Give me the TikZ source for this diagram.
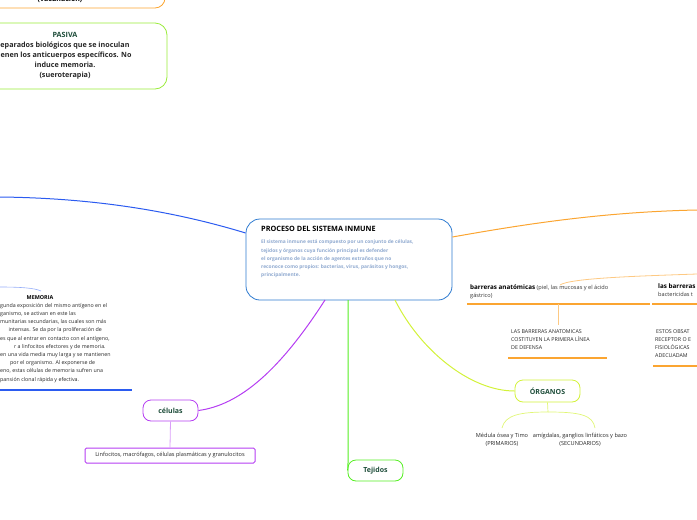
\documentclass[tikz,border=0pt]{standalone}
\usepackage{fontspec}
\setmainfont{Open Sans}
\definecolor{dg}{HTML}{1E4D3A}
\definecolor{bl}{HTML}{2E7BD0}
\definecolor{lb}{HTML}{8FA9CF}
\definecolor{vb}{HTML}{2B5BF0}
\definecolor{og}{HTML}{FBA531}
\definecolor{yg}{HTML}{D3F23A}
\definecolor{gr}{HTML}{55EE22}
\definecolor{pu}{HTML}{B53DF2}
\definecolor{lg}{HTML}{9AEB3A}
\begin{document}
\begin{tikzpicture}[x=1pt,y=-1pt,
 tiny/.style={font=\fontsize{5.3}{8.2}\selectfont,text=black!85,align=left,inner sep=0},
 sm/.style={font=\fontsize{5.6}{8}\selectfont,text=black!85,inner sep=0},
 lbl/.style={font=\bfseries\fontsize{7}{9}\selectfont,text=dg,inner sep=0}]
\useasboundingbox (0,0) rectangle (697,520);
% top cut-off boxes
\draw[og,line width=0.8pt,rounded corners=10pt] (-20,-30) rectangle (165,8);
\node[font=\bfseries\fontsize{7}{9}\selectfont] (vac) at (60,-1) {(vacunación)};
\draw[lg,line width=0.8pt,rounded corners=12pt] (-60,23) rectangle (167,89);
\node[align=center,font=\bfseries\fontsize{7.2}{10}\selectfont,text=black!85] (pas) at (65,56)
 {\textcolor{dg}{PASIVA}\\eparados biológicos que se inoculan\\ienen los anticuerpos específicos. No\\induce memoria.\\(sueroterapia)};
% central
\node[draw=bl,line width=0.8pt,rounded corners=14pt,minimum width=206pt,minimum height=81pt,inner sep=0] (c) at (349,259.5) {};
\node[anchor=north west,font=\bfseries\fontsize{7.3}{9}\selectfont,inner sep=0] (ct) at (261,226) {PROCESO DEL SISTEMA INMUNE};
\node[anchor=north west,font=\bfseries\fontsize{4.9}{8.2}\selectfont,text=lb,align=left,inner sep=0] (cd) at (261,240)
 {El sistema inmune está compuesto por un conjunto de células,\\tejidos y órganos cuya función principal es defender\\el organismo de la acción de agentes extraños que no\\reconoce como propios: bacterias, virus, parásitos y hongos,\\principalmente.};
% left
\coordinate (lb1) at (0,197);
\draw[vb,line width=1pt] (c.west|-0,233) .. controls (170,210) and (90,198) .. (lb1);
\draw[vb!50,line width=0.6pt] (0,287) .. controls (20,287) and (35,288) .. (41,291);
\node[font=\bfseries\fontsize{5.4}{7}\selectfont,inner sep=0] (mem) at (40,298) {MEMORIA};
\node[tiny,anchor=north west] (memt) at (0,303) {gunda exposición del mismo antígeno en el\\ganismo, se activan en este las\\munitarias secundarias, las cuales son más\\\hspace*{7pt} intensas. Se da por la proliferación de\\es que al entrar en contacto con el antígeno,\\\hspace*{14pt}r a linfocitos efectores y de memoria.\\en una vida media muy larga y se mantienen\\\hspace*{10pt}por el organismo. Al exponerse de\\eno, estas células de memoria sufren una\\pansión clonal rápida y efectiva.};
\draw[vb,line width=1.2pt] (0,390) -- (132,390);
% right orange
\coordinate (r1) at (697,210);
\draw[og,line width=1pt] (c.east|-0,237) .. controls (520,225) and (600,212) .. (r1);
\coordinate (r2) at (697,274);
\draw[og!60,line width=0.8pt] (560,285) .. controls (570,278) and (640,276) .. (r2);
\node[anchor=north west,inner sep=0,font=\fontsize{5.6}{8}\selectfont,align=left] (ba) at (470,284)
 {\textbf{\fontsize{6.3}{8}\selectfont barreras anatómicas} \textcolor{black!80}{(piel, las mucosas y el ácido}\\\textcolor{black!80}{gástrico)}};
\draw[og,line width=1.2pt] (467,304) -- (650,304);
\coordinate (bt) at (558,304);
\node[tiny,anchor=north west,font=\fontsize{5.3}{8.2}\selectfont] (lbar) at (511,329) {LAS BARRERAS ANATOMICAS\\COSTITUYEN LA PRIMERA LÍNEA\\DE DEFENSA};
\draw[og!60,line width=0.8pt] (bt) -- (558,325);
\draw[og,line width=1.2pt] (508,358) -- (607,358);
\node[anchor=north west,inner sep=0,font=\fontsize{5.6}{8}\selectfont,align=left] (lb2) at (658,284)
 {\textbf{\fontsize{6.3}{8}\selectfont las barreras}\\\textcolor{black!80}{bactericidas t}};
\draw[og,line width=1.2pt] (652,304) -- (697,304);
\node[tiny,anchor=north west] (est) at (655,329) {\,ESTOS OBSAT\\RECEPTOR O E\\FISIOLÓGICAS\\ADECUADAM};
\draw[og,line width=1.2pt] (653,366) -- (697,366);
% organos
\node[draw=yg,line width=0.8pt,rounded corners=8pt,minimum width=65pt,minimum height=22pt,lbl] (org) at (547.5,391) {ÓRGANOS};
\draw[yg,line width=1pt] (395,300) .. controls (420,350) and (470,391) .. (org.west);
\node[sm,align=center] (m1) at (502,440) {Médula ósea y Timo\\(PRIMARIOS)};
\node[sm,align=center] (m2) at (580,440) {amígdalas, ganglios linfáticos y bazo\\(SECUNDARIOS)};
\draw[yg!70,line width=0.7pt] (org.south) -- (548,412) .. controls (520,412) and (505,415) .. (502,428);
\draw[yg!70,line width=0.7pt] (548,412) .. controls (580,412) and (593,415) .. (595,428);
% tejidos
\node[draw=gr,line width=0.8pt,rounded corners=8pt,minimum width=55pt,minimum height=21pt,lbl] (tej) at (375.5,470.5) {Tejidos};
\draw[gr,line width=1pt] (348,300) -- (348,462) .. controls (348,468) .. (tej.west);
% celulas
\node[draw=pu,line width=0.8pt,rounded corners=8pt,minimum width=55pt,minimum height=21pt,lbl] (cel) at (170.5,410.5) {células};
\draw[pu,line width=1pt] (325,300) .. controls (280,370) and (240,405) .. (cel.east);
\node[draw=pu,line width=1pt,rounded corners=1.5pt,minimum width=170pt,minimum height=15pt,sm] (lin) at (170,455.5) {Linfocitos, macrófagos, células plasmáticas y granulocitos};
\draw[pu!50,line width=0.8pt] (cel.south) -- (lin.north);
\end{tikzpicture}
\end{document}
